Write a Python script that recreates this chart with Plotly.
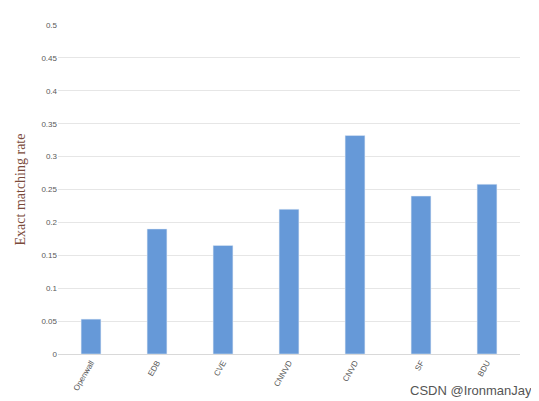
import plotly.graph_objects as go

sources = ["Openwall", "EDB", "CVE", "CNNVD", "CNVD", "SF", "BDU"]
rates = [0.053, 0.19, 0.165, 0.22, 0.332, 0.24, 0.258]
y_ticks = [0, 0.05, 0.1, 0.15, 0.2, 0.25, 0.3, 0.35, 0.4, 0.45, 0.5]

fig = go.Figure()
fig.add_trace(go.Bar(x=sources, y=rates, marker_color="#6699d8", width=0.3))

fig.update_layout(
    width=539, height=401,
    margin=dict(l=45, r=27, t=17, b=55),
    plot_bgcolor="white", paper_bgcolor="white",
    showlegend=False,
    font=dict(family="Liberation Sans", size=8, color="#595959"),
)
fig.update_xaxes(tickangle=-60, showline=True, linecolor="#d9d9d9", ticks="")
fig.update_yaxes(
    range=[0, 0.5], tickvals=y_ticks, ticktext=[f"{v:g}" for v in y_ticks],
    showgrid=True, gridcolor="#e6e6e6", zeroline=False, ticks="",
    title=dict(text="Exact matching rate", standoff=12,
               font=dict(family="Liberation Serif", size=14, color="#7a4a3a")),
)
fig.add_annotation(text="CSDN @IronmanJay", xref="paper", yref="paper",
                   x=1.03, y=-0.11, xanchor="right", yanchor="middle", showarrow=False,
                   font=dict(family="Liberation Sans", size=13, color="#555"))

fig.write_html("out.html")
